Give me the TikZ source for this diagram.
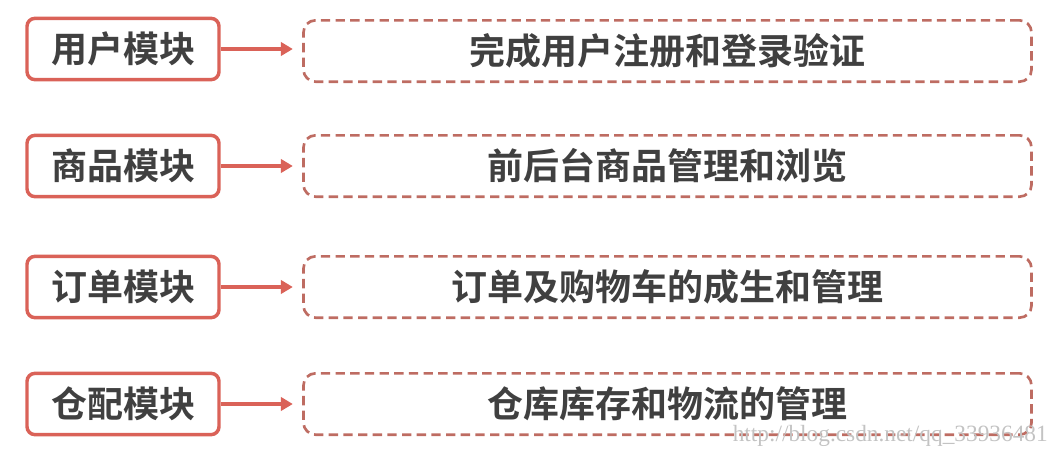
\documentclass[tikz,border=0pt]{standalone}
\usepackage{fontspec}
\newfontfamily\cjk{Noto Sans CJK SC}[BoldFont={* Bold}]
\setmainfont{Liberation Serif}
\usetikzlibrary{arrows.meta}
\definecolor{boxred}{RGB}{218,98,88}
\definecolor{dashred}{RGB}{190,108,98}
\definecolor{txt}{RGB}{64,64,64}
\definecolor{wm}{RGB}{195,195,195}
\tikzset{
  modbox/.style={draw=boxred, line width=2.6pt, rounded corners=6pt, fill=white,
    minimum width=144pt, minimum height=46pt, inner sep=0pt,
    font=\cjk\bfseries\fontsize{27}{31}\selectfont, text=txt},
  descbox/.style={draw=dashred, line width=2pt, dash pattern=on 7pt off 4pt, rounded corners=9pt,
    minimum width=546pt, minimum height=46pt, inner sep=0pt,
    font=\cjk\bfseries\fontsize{27}{31}\selectfont, text=txt},
  link/.style={draw=boxred, line width=2.4pt, -{Triangle[length=9pt,width=10pt]}, shorten >=7pt}
}
\begin{document}
\begin{tikzpicture}[x=0.75pt,y=0.75pt]
\useasboundingbox (0,0) rectangle (1061,455);
% row centers in px from top: 49,166,287,404
\node[modbox] (m1) at (123,455-49) {用户模块};
\node[modbox] (m2) at (123,455-166) {商品模块};
\node[modbox] (m3) at (123,455-287) {订单模块};
\node[modbox] (m4) at (123,455-404) {仓配模块};
\node[descbox] (d1) at (667.5,455-51) {完成用户注册和登录验证};
\node[descbox] (d2) at (667.5,455-166) {前后台商品管理和浏览};
\node[descbox] (d3) at (667.5,455-287) {订单及购物车的成生和管理};
\node[descbox] (d4) at (667.5,455-404) {仓库库存和物流的管理};
\draw[link] (m1.east) -- (m1.east -| d1.west);
\draw[link] (m2.east) -- (m2.east -| d2.west);
\draw[link] (m3.east) -- (m3.east -| d3.west);
\draw[link] (m4.east) -- (m4.east -| d4.west);
\node[text=wm, font=\fontsize{17.5}{20}\selectfont, anchor=east, inner sep=0pt] (w) at (1048,455-436) {http://blog.csdn.net/qq\_33936481};
\end{tikzpicture}
\end{document}
